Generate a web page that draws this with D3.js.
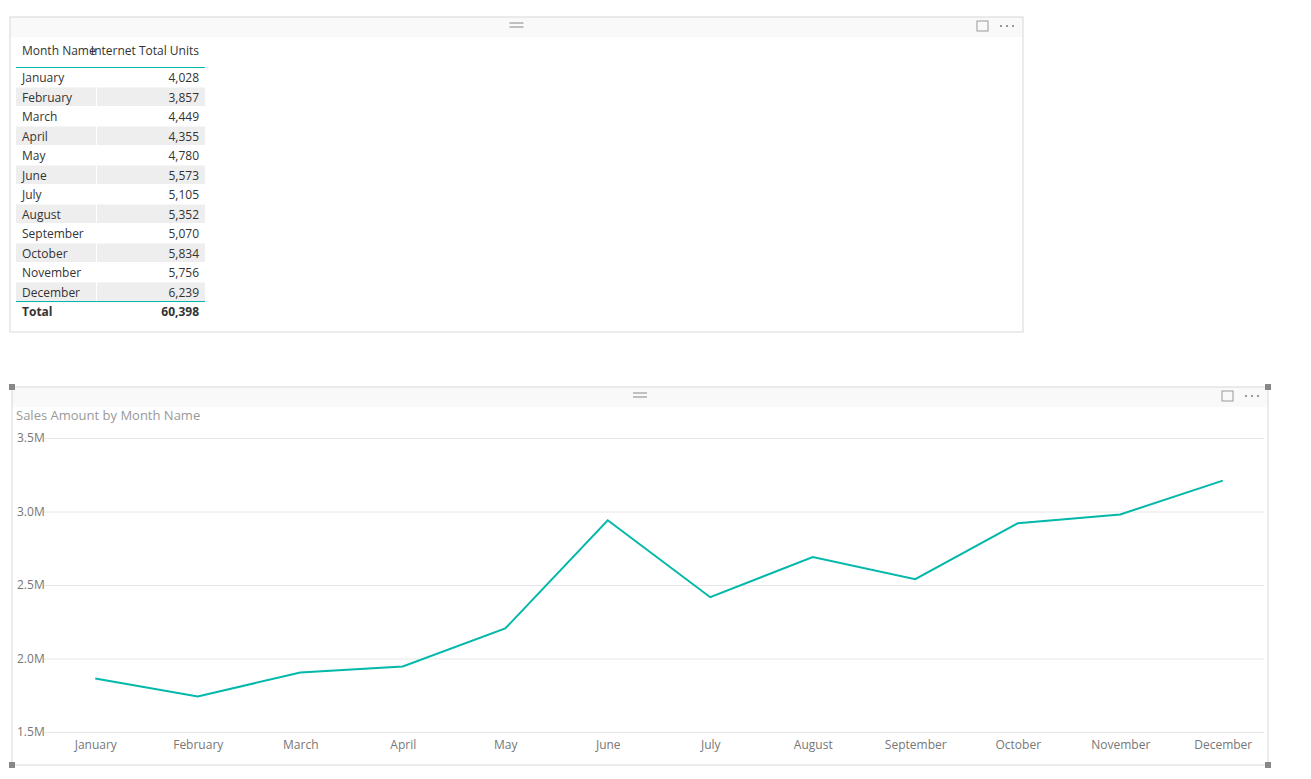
<!DOCTYPE html>
<html><head><meta charset="utf-8">
<script src="https://cdn.jsdelivr.net/npm/d3@7"></script>
<style>body{margin:0;background:#fff;font-family:"Segoe UI","Open Sans",sans-serif}</style>
</head><body><svg width="1311" height="779"></svg>
<script>
// Data
const months = ["January","February","March","April","May","June","July","August","September","October","November","December"];
const units = [4028,3857,4449,4355,4780,5573,5105,5352,5070,5834,5756,6239];
const sales = [1.864e6,1.741e6,1.905e6,1.946e6,2.204e6,2.94e6,2.417e6,2.69e6,2.54e6,2.92e6,2.98e6,3.21e6];
const yTicks = [1.5e6,2.0e6,2.5e6,3.0e6,3.5e6];

const svg = d3.select("svg");
const font = "Segoe UI, Open Sans, sans-serif";
const teal = "#01b8aa";

function panel(x, y, w, h) {
  svg.append("rect").attr("x", x).attr("y", y).attr("width", w).attr("height", 20).attr("fill", "#f9f9f9");
  svg.append("rect").attr("x", x).attr("y", y).attr("width", w).attr("height", h)
    .attr("fill", "none").attr("stroke", "#d8d8d8");
  const cx = x + w / 2;
  [-2, 2].forEach(d => svg.append("line").attr("x1", cx - 7).attr("x2", cx + 7)
    .attr("y1", y + 8 + d).attr("y2", y + 8 + d).attr("stroke", "#888"));
  // focus icon and dots
  svg.append("rect").attr("x", x + w - 46).attr("y", y + 4).attr("width", 11).attr("height", 10)
    .attr("fill", "none").attr("stroke", "#999");
  [0, 6, 12].forEach(d => svg.append("circle").attr("cx", x + w - 22 + d).attr("cy", y + 9).attr("r", 1).attr("fill", "#777"));
}

// Table panel
panel(10, 17, 1013, 315);
const t = svg.append("g").attr("font-family", font).attr("font-size", 12).attr("fill", "#333");
t.append("text").attr("x", 22).attr("y", 55).text("Month Name");
t.append("text").attr("x", 199).attr("y", 55).attr("text-anchor", "end").text("Internet Total Units");
t.append("line").attr("x1", 16).attr("x2", 205).attr("y1", 67.5).attr("y2", 67.5).attr("stroke", teal);
const rowY = d3.scaleBand().domain(months).range([68, 302]);
months.forEach((m, i) => {
  if (i % 2 === 1) {
    t.append("rect").attr("x", 16).attr("y", rowY(m)).attr("width", 80).attr("height", rowY.bandwidth() - 1).attr("fill", "#eeeeee");
    t.append("rect").attr("x", 97).attr("y", rowY(m)).attr("width", 108).attr("height", rowY.bandwidth() - 1).attr("fill", "#eeeeee");
  }
  t.append("text").attr("x", 22).attr("y", rowY(m) + 14).text(m);
  t.append("text").attr("x", 199).attr("y", rowY(m) + 14).attr("text-anchor", "end").text(d3.format(",")(units[i]));
});
t.append("line").attr("x1", 16).attr("x2", 205).attr("y1", 301.5).attr("y2", 301.5).attr("stroke", teal);
t.append("text").attr("x", 22).attr("y", 316).attr("font-weight", "bold").text("Total");
t.append("text").attr("x", 199).attr("y", 316).attr("text-anchor", "end").attr("font-weight", "bold")
  .text(d3.format(",")(d3.sum(units)));

// Line chart panel
panel(12, 387, 1256, 378);
[[12,387],[1268,387],[12,765],[1268,765]].forEach(([x, y]) => {
  svg.append("rect").attr("x", x - 3).attr("y", y - 3).attr("width", 6).attr("height", 6).attr("fill", "#888");
});
svg.append("text").attr("x", 16).attr("y", 420).attr("font-family", font).attr("font-size", 13)
  .attr("fill", "#999").text("Sales Amount by Month Name");

const x = d3.scalePoint().domain(months).range([44, 1274]).padding(0.5);
const y = d3.scaleLinear().domain([1.5e6, 3.5e6]).range([732, 438]);

const grid = svg.append("g");
yTicks.forEach(v => {
  grid.append("line").attr("x1", 44).attr("x2", 1264).attr("y1", y(v) + 0.5).attr("y2", y(v) + 0.5)
    .attr("stroke", "#e6e6e6");
  grid.append("text").attr("x", 17).attr("y", y(v) + 4).attr("font-family", font).attr("font-size", 12)
    .attr("fill", "#777").text(d3.format(".1f")(v / 1e6) + "M");
});

const xAxis = svg.append("g").attr("transform", "translate(0,745)")
  .call(d3.axisBottom(x).tickSize(0).tickPadding(0));
xAxis.select(".domain").remove();
xAxis.selectAll("text").attr("font-family", font).attr("font-size", 12).attr("fill", "#777").attr("dy", "0.3em");

svg.append("path").datum(sales)
  .attr("fill", "none").attr("stroke", teal).attr("stroke-width", 2)
  .attr("d", d3.line().x((d, i) => x(months[i])).y(d => y(d)));
</script></body></html>
